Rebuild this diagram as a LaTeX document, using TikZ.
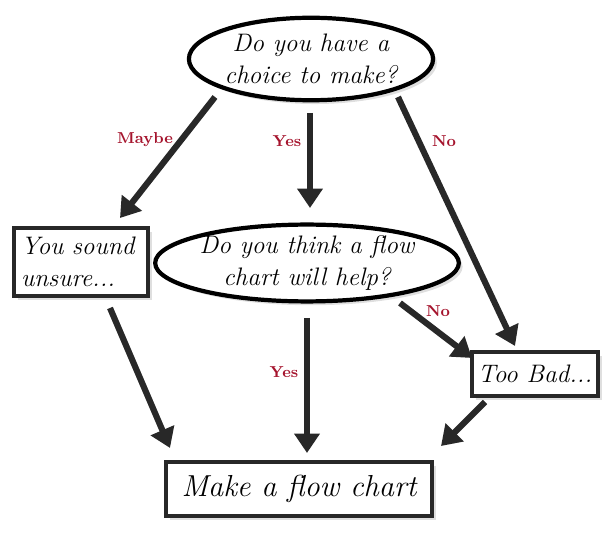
\documentclass[tikz,border=0pt]{standalone}
\usetikzlibrary{shapes.geometric,arrows.meta,shadows}
\definecolor{lbl}{RGB}{165,20,45}
\definecolor{ln}{RGB}{40,40,40}
\begin{document}
\begin{tikzpicture}[x=0.02cm,y=-0.02cm,
  oval/.style={ellipse,draw=black,line width=2.4pt,fill=white,font=\itshape\Large,align=center,inner sep=0pt,drop shadow={opacity=0.25}},
  box/.style={draw=ln,line width=2.4pt,fill=white,font=\itshape\Large,align=left,drop shadow={opacity=0.25}},
  arr/.style={draw=ln,line width=3.5pt,-{Triangle[length=11pt,width=14pt]}},
  lab/.style={text=lbl,font=\bfseries\small}]
\useasboundingbox (0,0) rectangle (609,533);
\node[oval,minimum width=4.4cm,minimum height=1.65cm] (q1) at (311,59) {Do you have a\\choice to make?};
\node[oval,minimum width=5.3cm,minimum height=1.4cm] (q2) at (307,263) {Do you think a flow\\chart will help?};
\node[box,minimum width=2.68cm,minimum height=1.36cm,text width=2.4cm,inner sep=1pt] (un) at (81,262) {You sound\\unsure...};
\node[box,minimum width=2.28cm,minimum height=0.88cm,align=center] (tb) at (535,374) {Too Bad...};
\node[box,minimum width=5.32cm,minimum height=1.08cm,align=center,font=\itshape\LARGE] (mk) at (299,489) {Make a flow chart};
\coordinate (a1s) at (215,97); \coordinate (a1e) at (120,218);
\coordinate (a2s) at (310,113); \coordinate (a2e) at (310,208);
\coordinate (a3s) at (398,97); \coordinate (a3e) at (515,346);
\coordinate (a4s) at (400,303); \coordinate (a4e) at (472,358);
\coordinate (a5s) at (307,318); \coordinate (a5e) at (307,453);
\coordinate (a6s) at (110,308); \coordinate (a6e) at (170,448);
\coordinate (a7s) at (485,402); \coordinate (a7e) at (441,446);
\draw[arr] (a1s) -- (a1e);
\draw[arr] (a2s) -- (a2e);
\draw[arr] (a3s) -- (a3e);
\draw[arr] (a4s) -- (a4e);
\draw[arr] (a5s) -- (a5e);
\draw[arr] (a6s) -- (a6e);
\draw[arr] (a7s) -- (a7e);
\node[lab] (l1) at (145,140) {Maybe};
\node[lab] (l2) at (287,141) {Yes};
\node[lab] (l3) at (444,141) {No};
\node[lab] (l4) at (438,311) {No};
\node[lab] (l5) at (284,372) {Yes};
\end{tikzpicture}
\end{document}
